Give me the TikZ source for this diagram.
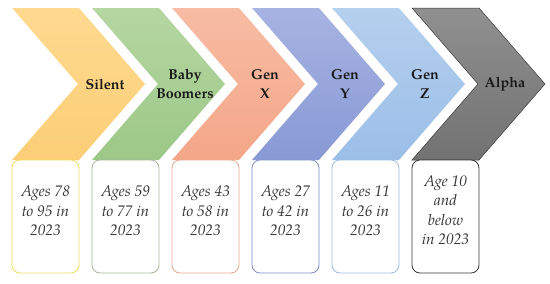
\documentclass[tikz,border=0pt]{standalone}
\usepackage{fontspec}
\setmainfont{TeX Gyre Pagella}
\definecolor{ylT}{HTML}{FEDA90}\definecolor{ylB}{HTML}{FBCE76}\definecolor{ylO}{HTML}{F0DC60}
\definecolor{grT}{HTML}{B6D6A2}\definecolor{grB}{HTML}{9CC887}\definecolor{grO}{HTML}{A8B89C}
\definecolor{orT}{HTML}{F7BCA4}\definecolor{orB}{HTML}{F4A688}\definecolor{orO}{HTML}{E8A88E}
\definecolor{buT}{HTML}{A7B3E1}\definecolor{buB}{HTML}{8899D5}\definecolor{buO}{HTML}{7F90C8}
\definecolor{lbT}{HTML}{B5CFEE}\definecolor{lbB}{HTML}{9BBEE7}\definecolor{lbO}{HTML}{9EBCE0}
\definecolor{gyT}{HTML}{909090}\definecolor{gyB}{HTML}{727272}\definecolor{gyO}{HTML}{3A3A3A}
\newcommand{\genitem}[8]{%
  \pgfmathsetmacro{\xo}{12+80*#1}
  \shade[top color=#2,bottom color=#3,draw=#8,line width=0.5pt]
    (\xo,8) -- ++(67,0) -- ++(66,76) -- ++(-66,76) -- ++(-67,0) -- ++(66,-76) -- cycle;
  \draw[ageframe,draw=#4] (\xo,160) -- (\xo,273) -- (\xo+67,273) -- (\xo+67,160) -- cycle;
  \node[gentxt] (gen#1) at (\xo+93,84) {#5};
  \node[agetxt] (age#1) at (\xo+33.5,#7) {#6};
}
\begin{document}
\begin{tikzpicture}[x=1pt,y=-1pt]
\tikzset{
  ageframe/.style={line width=0.8pt,fill=white,rounded corners=8pt},
  gentxt/.style={font=\fontsize{14.3}{19}\selectfont\bfseries,align=center,text=black!90,inner sep=0pt},
  agetxt/.style={font=\fontsize{15.3}{19.5}\selectfont\itshape,align=center,text=black!80,inner sep=0pt}
}
\useasboundingbox (0,0) rectangle (550,284);
\genitem{0}{ylT}{ylB}{ylO}{Silent}{Ages 78\\to 95 in\\2023}{211}{none}
\genitem{1}{grT}{grB}{grO}{Baby\\Boomers}{Ages 59\\to 77 in\\2023}{211}{none}
\genitem{2}{orT}{orB}{orO}{Gen\\X}{Ages 43\\to 58 in\\2023}{211}{none}
\genitem{3}{buT}{buB}{buO}{Gen\\Y}{Ages 27\\to 42 in\\2023}{211}{none}
\genitem{4}{lbT}{lbB}{lbO}{Gen\\Z}{Ages 11\\to 26 in\\2023}{211}{none}
\genitem{5}{gyT}{gyB}{gyO}{Alpha}{Age 10\\and\\below\\in 2023}{210}{gyO}
\end{tikzpicture}
\end{document}
